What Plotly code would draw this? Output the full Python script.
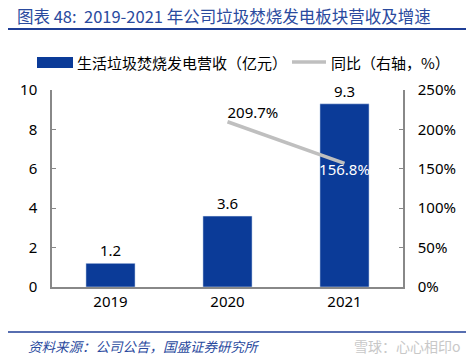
import plotly.graph_objects as go

years = ["2019", "2020", "2021"]
revenue = [1.2, 3.6, 9.3]
yoy_years = ["2020", "2021"]
yoy = [209.7, 156.8]
bar_name = "生活垃圾焚烧发电营收（亿元）"
line_name = "同比（右轴，%）"
title_text = "图表 48:  2019-2021 年公司垃圾焚烧发电板块营收及增速"
source_text = "资料来源：公司公告，国盛证券研究所"
watermark = "雪球：心心相印o"

BLUE = "#0B3B98"
GRAY = "#BFBFBF"
NUM_FONT = "Noto Sans"
CJK = "Noto Sans CJK SC"

fig = go.Figure()
fig.add_trace(go.Bar(
    x=years, y=revenue, name=bar_name, marker_color=BLUE, width=0.42,
    text=[f"{v:.1f}" for v in revenue], textposition="outside",
    textfont=dict(family=NUM_FONT, size=15, color="#000"), cliponaxis=False,
    showlegend=False,
))
fig.add_trace(go.Scatter(
    x=yoy_years, y=yoy, name=line_name, yaxis="y2", mode="lines+text",
    line=dict(color=GRAY, width=3.5),
    text=[f"{v:.1f}%" for v in yoy], textposition=["top right", "bottom center"],
    textfont=dict(family=NUM_FONT, size=15, color=["#000", "#fff"]),
    cliponaxis=False, showlegend=False,
))

OFF = 8  # page body margin
W, H = 474 - OFF, 363 - OFF
L, R, T, B = 52 - OFF, 403 - OFF, 90 - OFF, 287 - OFF
pw, ph = R - L, B - T
def px(x): return (x - OFF - L) / pw
def py(y): return (B - (y - OFF)) / ph

shapes = [
    dict(type="line", xref="paper", yref="paper", x0=px(8), x1=px(473), y0=py(29), y1=py(29),
         line=dict(color="#1F3E96", width=2)),
    dict(type="line", xref="paper", yref="paper", x0=px(8), x1=px(473), y0=py(332), y1=py(332),
         line=dict(color="#1F3E96", width=1.5)),
    dict(type="rect", xref="paper", yref="paper", x0=px(37), x1=px(73), y0=py(68), y1=py(57),
         fillcolor=BLUE, line=dict(width=0)),
    dict(type="line", xref="paper", yref="paper", x0=px(292), x1=px(326), y0=py(62), y1=py(62),
         line=dict(color=GRAY, width=3.5)),
]
annotations = [
    dict(text=title_text, xref="paper", yref="paper", x=px(15), y=py(16),
         xanchor="left", yanchor="middle", showarrow=False,
         font=dict(family=CJK, size=16.5, color="#2A4A9E")),
    dict(text=bar_name, xref="paper", yref="paper", x=px(75), y=py(62),
         xanchor="left", yanchor="middle", showarrow=False,
         font=dict(family=CJK, size=15, color="#000")),
    dict(text=line_name, xref="paper", yref="paper", x=px(329), y=py(62),
         xanchor="left", yanchor="middle", showarrow=False,
         font=dict(family=CJK, size=15, color="#000")),
    dict(text=source_text, xref="paper", yref="paper", x=px(144), y=py(346),
         xanchor="center", yanchor="middle", showarrow=False,
         font=dict(family=CJK, size=13.5, color="#2A4A9E", style="italic")),
    dict(text=watermark, xref="paper", yref="paper", x=px(462), y=py(346),
         xanchor="right", yanchor="middle", showarrow=False,
         font=dict(family=CJK, size=14, color="#C8C8C8")),
]

fig.update_layout(
    width=W, height=H, margin=dict(l=L, r=W - R, t=T, b=H - B, pad=0),
    paper_bgcolor="white", plot_bgcolor="white",
    shapes=shapes, annotations=annotations, showlegend=False,
    xaxis=dict(type="category", showline=True, linecolor="#888", linewidth=1.5,
               ticks="", tickfont=dict(family=NUM_FONT, size=15, color="#000"),
               showgrid=False, zeroline=False),
    yaxis=dict(range=[0, 10], dtick=2, showline=True, linecolor="#888", linewidth=1.5,
               ticks="inside", ticklen=4, tickcolor="#888", showgrid=False, zeroline=False,
               tickfont=dict(family=NUM_FONT, size=15, color="#000"), ticklabelstandoff=10),
    yaxis2=dict(range=[0, 250], dtick=50, ticksuffix="%", overlaying="y", side="right",
                showline=True, linecolor="#888", linewidth=1.5, ticks="inside", ticklen=4,
                tickcolor="#888", showgrid=False, zeroline=False,
                tickfont=dict(family=NUM_FONT, size=15, color="#000"), ticklabelstandoff=10),
)
fig.write_html("out.html")
